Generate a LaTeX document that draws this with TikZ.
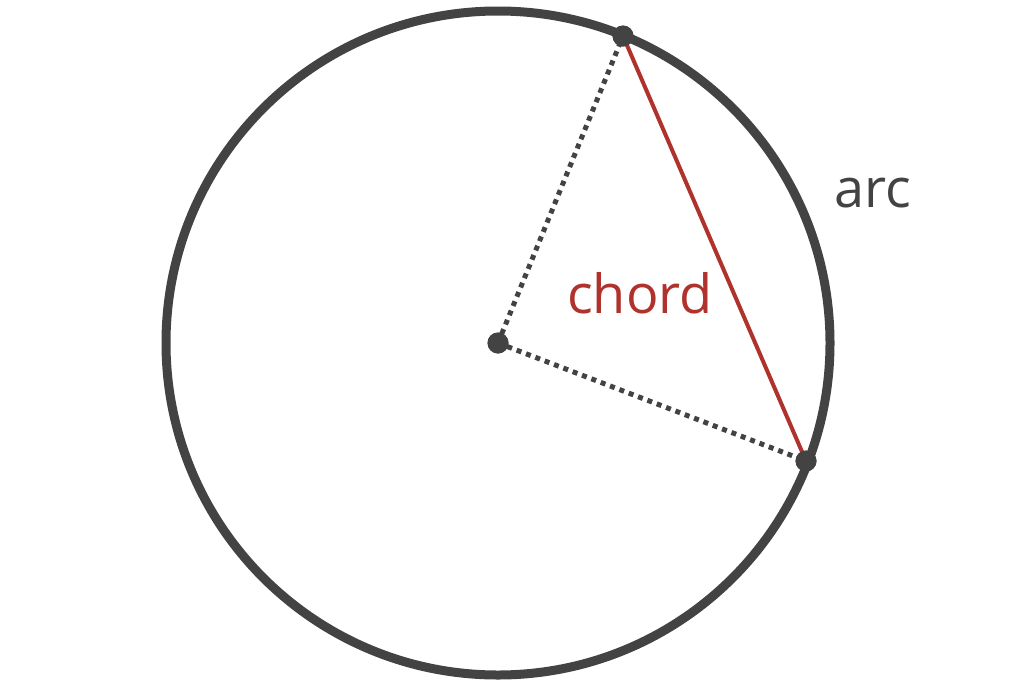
\documentclass[tikz,border=0pt]{standalone}
\usepackage{fontspec}
\setmainfont{Open Sans}
\definecolor{ink}{HTML}{434343}
\definecolor{chordred}{HTML}{B0322C}
\begin{document}
\begin{tikzpicture}[x=1pt,y=-1pt,
  rim/.style={draw=ink,line width=9pt},
  radius line/.style={draw=ink,line width=5pt,dash pattern=on 5pt off 5pt},
  chordline/.style={draw=chordred,line width=4pt},
  dotpt/.style={circle,fill=ink,inner sep=0pt,minimum size=21pt},
  lbl/.style={font=\fontsize{54}{62}\selectfont,inner sep=0pt}]
\useasboundingbox (0,0) rectangle (1024,683);
\node[circle,rim,minimum size=664pt,inner sep=0pt] (circ) at (498,343) {};
\node[dotpt] (o) at (498,343) {};
\node[dotpt] (a) at (623,36) {};
\node[dotpt] (b) at (806,461) {};
\draw[radius line] (o.center) -- (a.center);
\draw[radius line] (o.center) -- (b.center);
\draw[chordline] (a.center) -- (b.center);
\node[dotpt] at (o) {};
\node[dotpt] at (a) {};
\node[dotpt] at (b) {};
\node[lbl,text=ink] (arc) at (873,193) {arc};
\node[lbl,text=chordred] (ch) at (640,293) {chord};
\end{tikzpicture}
\end{document}
